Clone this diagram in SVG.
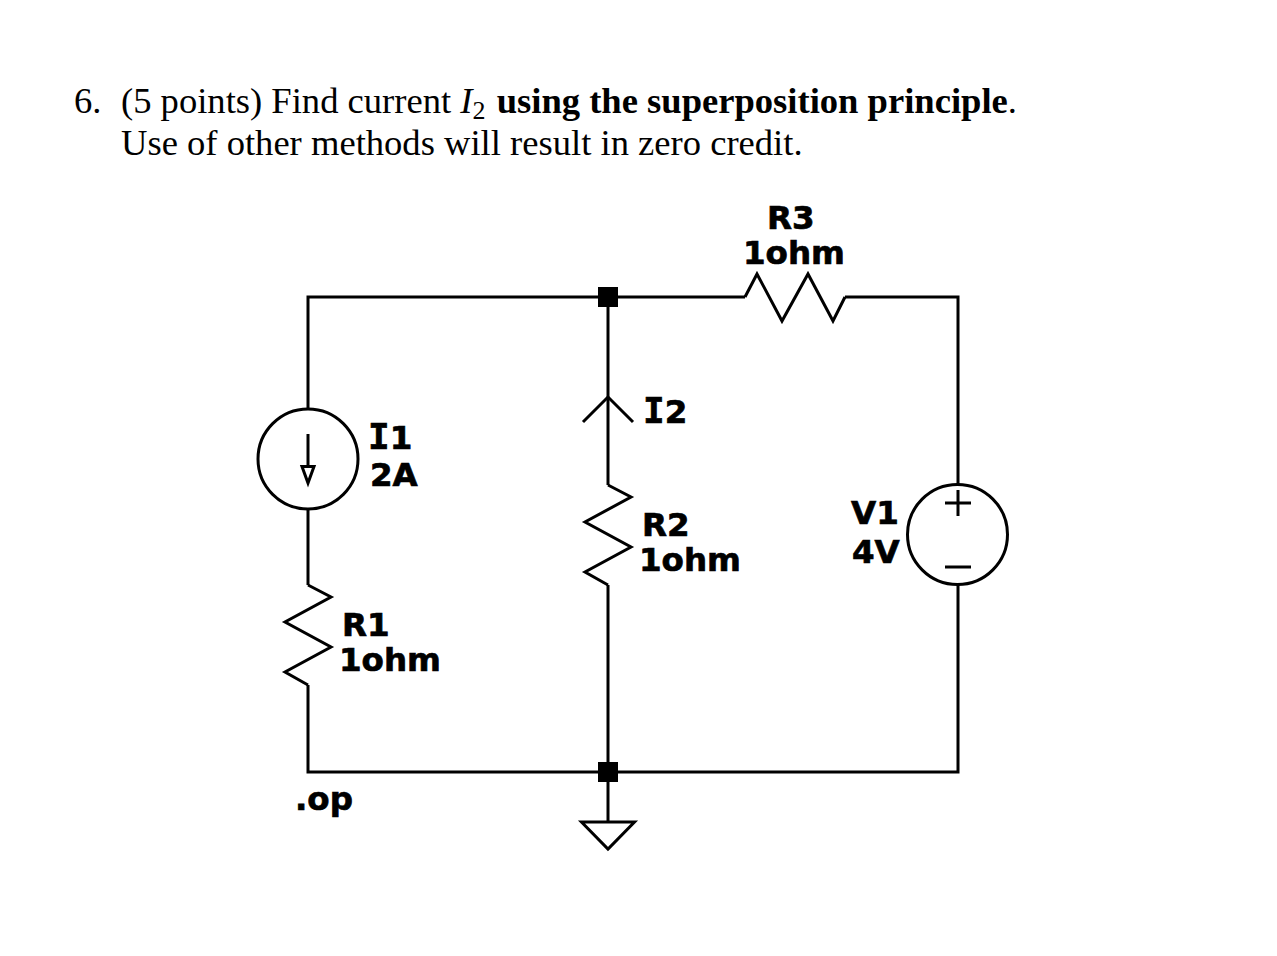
<svg xmlns="http://www.w3.org/2000/svg" width="1277" height="956" viewBox="0 0 1277 956">
<style>
.w{fill:none;stroke:#000;stroke-width:3;stroke-linejoin:miter}
.t{font-family:"Liberation Serif","Times New Roman",serif;font-size:36.6px;fill:#000}
.l{font-family:"DejaVu Sans",Verdana,sans-serif;font-weight:700;font-size:32.5px;fill:#000;stroke:#000;stroke-width:.7}
.m{font-family:"DejaVu Sans Mono",monospace;font-size:36px}
.j{fill:#000}
</style>
<rect width="1277" height="956" fill="#fff"/>
<g id="question">
<text class="t" x="74" y="113">6.</text>
<text class="t" x="121" y="113">(5 points) Find current <tspan font-style="italic">I</tspan><tspan font-size="26" dy="6">2</tspan><tspan dy="-6" dx="2" font-weight="700"> using the superposition principle</tspan>.</text>
<text class="t" x="121" y="155">Use of other methods will result in zero credit.</text>
</g>
<g id="connectors">
<path class="w" d="M308 409V297H745"/>
<path class="w" d="M845 297H958V485"/>
<path class="w" d="M608 297V485"/>
<path class="w" d="M308 509V585"/>
<path class="w" d="M308 685V772H958V585"/>
<path class="w" d="M608 585V822"/>
</g>
<g id="I1">
<circle class="w" cx="308" cy="459" r="50"/>
<path class="w" d="M308 434V466"/>
<path class="w" d="M302 466.500H314L308 483Z"/>
<text class="l"><tspan class="m" x="368" y="449">I</tspan><tspan>1</tspan><tspan x="370" y="486">2A</tspan></text>
</g>
<g id="R1">
<path class="w" d="M308 585L331 597L285 622L331 647L285 672L308 685"/>
<text class="l"><tspan x="342" y="635.500">R1</tspan><tspan x="339" y="670.500">1ohm</tspan></text>
</g>
<g id="R2">
<path class="w" d="M608 485L631 497L585 522L631 547L585 572L608 585"/>
<text class="l"><tspan x="642" y="535.500">R2</tspan><tspan x="639" y="570.500">1ohm</tspan></text>
</g>
<g id="R3">
<path class="w" d="M745 297L757 274L782 321L808 274L833 321L845 297"/>
<text class="l"><tspan x="767" y="229">R3</tspan><tspan x="743" y="264">1ohm</tspan></text>
</g>
<g id="I2">
<path class="w" d="M583 422L608 397L633 422"/>
<text class="l"><tspan class="m" x="643" y="423">I</tspan><tspan>2</tspan></text>
</g>
<g id="V1">
<circle class="w" cx="957.500" cy="534.500" r="50"/>
<path class="w" d="M945 503H971M958 490V516M945 567H971"/>
<text class="l"><tspan x="851" y="524">V1</tspan><tspan x="852" y="563">4V</tspan></text>
</g>
<g id="junction-top"><rect class="j" x="598" y="287" width="20" height="20"/></g>
<g id="junction-bottom"><rect class="j" x="598" y="762" width="20" height="20"/></g>
<g id="ground"><path class="w" d="M581.500 822H634.500L608 849Z"/></g>
<g id="op"><text class="l" x="295" y="810">.op</text></g>
</svg>
